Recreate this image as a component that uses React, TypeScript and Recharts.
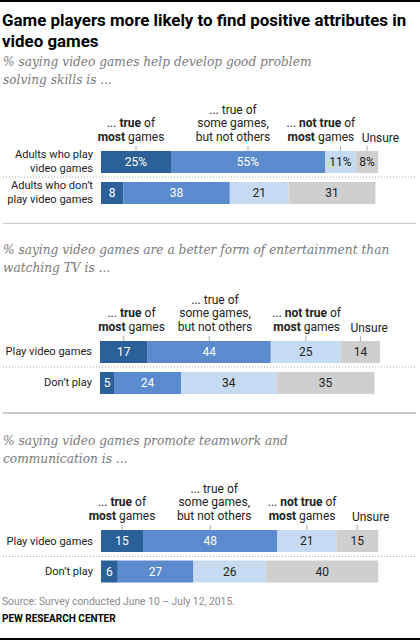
import React from 'react';
import { BarChart, Bar, XAxis, YAxis } from 'recharts';

const FONT = 'Roboto, "Noto Sans", Arial, sans-serif';
const SERIF = '"DejaVu Serif", Georgia, serif';

const SERIES_KEYS = ['most', 'some', 'notMost', 'unsure'];
const COLORS = ['#2b6198', '#5b8bcd', '#c6daf1', '#cfcfcf'];
const VALUE_TEXT_COLORS = ['#ffffff', '#ffffff', '#222222', '#222222'];

type Seg = [string, boolean];
const HEADER_LINES: Seg[][][] = [
  [[['... ', false], ['true', true], [' of', false]], [['most', true], [' games', false]]],
  [[['... true of', false]], [['some games,', false]], [['but not others', false]]],
  [[['... ', false], ['not true', true], [' of', false]], [['most', true], [' games', false]]],
  [[['Unsure', false]]],
];

const TITLE_LINES = ['Game players more likely to find positive attributes in', 'video games'];
const SUB_PROBLEM = ['% saying video games help develop good problem', 'solving skills is ...'];
const SUB_TV = ['% saying video games are a better form of entertainment than', 'watching TV is ...'];
const SUB_TEAM = ['% saying video games promote teamwork and', 'communication is ...'];

const problemCategories = ['Adults who play\nvideo games', 'Adults who don\u2019t\nplay video games'];
const problemMost = [25, 8];
const problemSome = [55, 38];
const problemNotMost = [11, 21];
const problemUnsure = [8, 31];

const tvCategories = ['Play video games', 'Don\u2019t play'];
const tvMost = [17, 5];
const tvSome = [44, 24];
const tvNotMost = [25, 34];
const tvUnsure = [14, 35];

const teamCategories = ['Play video games', 'Don\u2019t play'];
const teamMost = [15, 6];
const teamSome = [48, 27];
const teamNotMost = [21, 26];
const teamUnsure = [15, 40];

function makeRows(cats: string[], a: number[], b: number[], c: number[], d: number[]) {
  return cats.map((name, i) => ({ name, most: a[i], some: b[i], notMost: c[i], unsure: d[i] }));
}

const problemRows = makeRows(problemCategories, problemMost, problemSome, problemNotMost, problemUnsure);
const tvRows = makeRows(tvCategories, tvMost, tvSome, tvNotMost, tvUnsure);
const teamRows = makeRows(teamCategories, teamMost, teamSome, teamNotMost, teamUnsure);

function Segment(props: any) {
  const { x, y, width, height, fill, index, payload, si, dx, pct, dataKey } = props;
  const v = payload ? payload[dataKey] : '';
  const cx = x + width / 2;
  const lines = HEADER_LINES[si];
  const n = lines.length;
  return (
    <g>
      <rect x={x} y={y} width={width} height={height} fill={fill} />
      <text
        x={cx}
        y={y + height / 2}
        textAnchor="middle"
        dominantBaseline="central"
        fontSize={12}
        fontFamily={FONT}
        fill={VALUE_TEXT_COLORS[si]}
      >
        {pct && index === 0 ? `${v}%` : v}
      </text>
      {index === 0 && (
        <g>
          <line x1={cx} x2={cx} y1={y - 5} y2={y} stroke="#aaaaaa" strokeWidth={1} />
          {lines.map((segs, j) => (
            <text
              key={j}
              x={cx + dx}
              y={y - 14.5 - (n - 1 - j) * 13.5 + (si === 3 ? 1.5 : 0)}
              textAnchor="middle"
              dominantBaseline="central"
              fontSize={12}
              fontFamily={FONT}
              fill="#222222"
            >
              {segs.map((s, k) => (
                <tspan key={k} fontWeight={s[1] ? 700 : 400}>
                  {s[0]}
                </tspan>
              ))}
            </text>
          ))}
        </g>
      )}
    </g>
  );
}

function renderRowTick(p: any, pitch: number) {
  const { x, y, payload, index } = p;
  const parts = String(payload.value).split('\n');
  const lh = 13.3;
  const start = y - ((parts.length - 1) * lh) / 2;
  return (
    <g>
      {index === 1 && (
        <line x1={3} x2={415} y1={y - pitch / 2} y2={y - pitch / 2} stroke="#aaaaaa" strokeWidth={1} strokeDasharray="1 2" />
      )}
      <text textAnchor="end" fontSize={11.1} fontFamily={FONT} fill="#222222">
        {parts.map((t, i) => (
          <tspan key={i} x={x} y={start + i * lh} dominantBaseline="central">
            {t}
          </tspan>
        ))}
      </text>
    </g>
  );
}

function Section({ rows, top, plotLeft, pitch, headerDx, pct }: any) {
  const MT = 60;
  const MB = 2;
  const height = MT + pitch * 2 + MB;
  const plotW = 280;
  return (
    <div style={{ position: 'absolute', left: 0, top, width: 420, height }}>
      <BarChart
        width={420}
        height={height}
        data={rows}
        layout="vertical"
        margin={{ top: MT, right: 420 - plotLeft - plotW, bottom: MB, left: 0 }}
      >
        <XAxis type="number" domain={[0, 100]} hide />
        <YAxis
          type="category"
          dataKey="name"
          width={plotLeft}
          axisLine={false}
          tickLine={false}
          tickSize={0}
          tickMargin={8}
          interval={0}
          tick={(p: any) => renderRowTick(p, pitch)}
        />
        {SERIES_KEYS.map((k, i) => (
          <Bar
            key={k}
            dataKey={k}
            stackId="s"
            fill={COLORS[i]}
            barSize={22}
            isAnimationActive={false}
            shape={(p: any) => <Segment {...p} si={i} dx={headerDx[i]} pct={pct} dataKey={k} />}
          />
        ))}
      </BarChart>
    </div>
  );
}

const subStyle: React.CSSProperties = {
  position: 'absolute',
  left: 3,
  fontFamily: SERIF,
  fontStyle: 'italic',
  fontSize: 12.2,
  lineHeight: '18px',
  color: '#7a7a7a',
  whiteSpace: 'nowrap',
};

export default function App() {
  return (
    <div
      style={{
        position: 'absolute',
        left: 0,
        top: 0,
        width: 420,
        height: 641,
        background: '#ffffff',
        overflow: 'hidden',
        fontFamily: FONT,
      }}
    >
      <div style={{ position: 'absolute', left: 0, top: 0, width: 420, height: 2, background: '#000' }} />
      <div
        style={{
          position: 'absolute',
          left: 2,
          top: 10,
          fontSize: 16.9,
          fontWeight: 700,
          lineHeight: '21px',
          color: '#000',
          whiteSpace: 'nowrap',
        }}
      >
        {TITLE_LINES[0]}
        <br />
        {TITLE_LINES[1]}
      </div>
      <div style={{ ...subStyle, top: 53 }}>
        {SUB_PROBLEM[0]}
        <br />
        {SUB_PROBLEM[1]}
      </div>
      <Section rows={problemRows} top={86.35} plotLeft={101} pitch={31} headerDx={[-5, -15, -19.5, 13.4]} pct />

      <div style={{ position: 'absolute', left: 3, top: 222.5, width: 413, height: 1.5, background: '#cccccc' }} />
      <div style={{ ...subStyle, top: 241 }}>
        {SUB_TV[0]}
        <br />
        {SUB_TV[1]}
      </div>
      <Section rows={tvRows} top={276.2} plotLeft={100} pitch={31} headerDx={[7.7, 5.8, 0.9, 8.8]} pct={false} />

      <div style={{ position: 'absolute', left: 3, top: 412, width: 413, height: 1.5, background: '#cccccc' }} />
      <div style={{ ...subStyle, top: 432 }}>
        {SUB_TEAM[0]}
        <br />
        {SUB_TEAM[1]}
      </div>
      <Section rows={teamRows} top={466.25} plotLeft={101} pitch={30.5} headerDx={[0, 4, -4.7, 13.5]} pct={false} />

      <div
        style={{
          position: 'absolute',
          left: 2,
          top: 595,
          fontSize: 10.3,
          lineHeight: '14px',
          color: '#8a8a8a',
          whiteSpace: 'nowrap',
        }}
      >
        Source: Survey conducted June 10 – July 12, 2015.
      </div>
      <div
        style={{
          position: 'absolute',
          left: 2,
          top: 612,
          fontSize: 10,
          lineHeight: '14px',
          fontWeight: 700,
          color: '#000',
          whiteSpace: 'nowrap',
        }}
      >
        PEW RESEARCH CENTER
      </div>
      <div style={{ position: 'absolute', left: 0, top: 638, width: 420, height: 2, background: '#000' }} />
    </div>
  );
}
